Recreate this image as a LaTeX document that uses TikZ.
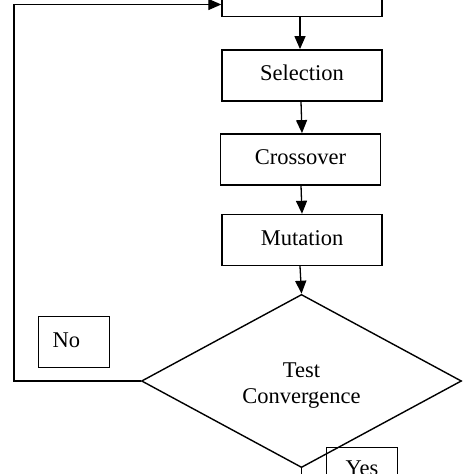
\documentclass[tikz,border=0pt]{standalone}
\usepackage{fontspec}
\setmainfont{Liberation Serif}
\usetikzlibrary{shapes.geometric,arrows.meta}
\begin{document}
\begin{tikzpicture}[x=1pt,y=-1pt,
  font=\fontsize{22.5}{26}\selectfont,
  line width=1.3pt,
  stepbox/.style={draw,line width=1.4pt,minimum width=160pt,minimum height=51pt,
    text height=15pt,text depth=5pt,inner sep=0pt},
  arr/.style={-{Triangle[length=13pt,width=11pt]}},
  decide/.style={draw,diamond,line width=1.4pt,minimum width=320pt,minimum height=131pt,
    inner sep=0pt,align=center}]
\useasboundingbox (0,0) rectangle (474,474);
\clip (0,0) rectangle (474,474);
\node[stepbox] (top) at (302,-9.2) {};
\node[stepbox] (sel) at (302,75.3) {Selection};
\node[stepbox] (cro) at (300.5,159.3) {Crossover};
\node[stepbox] (mut) at (302,240) {Mutation};
\node[decide] (dia) at (301.5,381) {\rule{0pt}{24pt}Test\\Convergence};
\node[draw,line width=1.4pt,anchor=north west,text width=43pt,inner xsep=14pt,
  inner ysep=15.5pt,text height=15pt,text depth=5pt,align=left] (no) at (38,316) {No};
\node[draw,line width=1.4pt,anchor=north,minimum width=70.5pt,inner ysep=13.5pt,
  text height=15pt,text depth=5pt] (yes) at (362,446.7) {Yes};
\coordinate (lb) at (14,381);
\coordinate (lt) at (14,4.5);
\coordinate (down) at (301.5,500);
\draw[arr] (top.south -| 300,0) -- (sel.north -| 300,0);
\draw[arr] (sel.south -| 301,0) -- (cro.north -| 302,0);
\draw[arr] (cro.south -| 301,0) -- (mut.north -| 302,0);
\draw[arr] (mut.south -| 300,0) -- (dia.north);
\draw[arr] (dia.west) -- (lb) -- (lt) -- (lt -| top.west);
\draw (dia.south) -- (down);
\end{tikzpicture}
\end{document}
